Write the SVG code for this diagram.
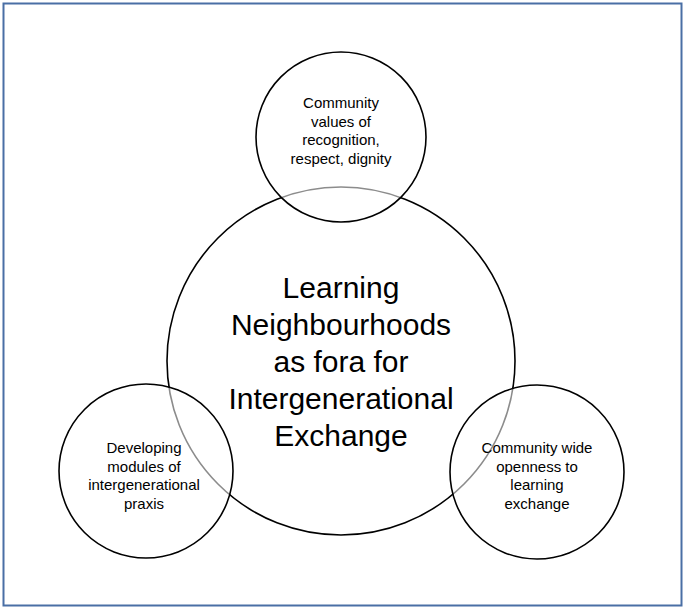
<svg xmlns="http://www.w3.org/2000/svg" width="685" height="609" viewBox="0 0 685 609">
<style>
.c{fill:none;stroke:#000;stroke-width:1.6}
.s{fill:#fff;fill-opacity:0.55;stroke:#000;stroke-width:1.6}
.t{font-family:"Liberation Sans",Arial,sans-serif;text-anchor:middle;fill:#000}
.big{font-size:30px}
.sm{font-size:15px}
</style>
<rect x="0" y="0" width="685" height="609" fill="#fff"/>
<rect x="3.5" y="3.5" width="678" height="602" fill="none" stroke="#4a6fa5" stroke-width="2"/>
<g id="connectors"></g>
<g id="center">
<circle class="c" cx="341" cy="361" r="174"/>
<text class="t big"><tspan x="341" y="298">Learning</tspan><tspan x="341" y="335">Neighbourhoods</tspan><tspan x="341" y="372">as fora for</tspan><tspan x="341" y="409">Intergenerational</tspan><tspan x="341" y="446">Exchange</tspan></text>
</g>
<g id="top">
<circle class="s" cx="341" cy="137" r="85"/>
<text class="t sm"><tspan x="341" y="108">Community</tspan><tspan x="341" y="127">values of</tspan><tspan x="341" y="145">recognition,</tspan><tspan x="341" y="164">respect, dignity</tspan></text>
</g>
<g id="left">
<circle class="s" cx="146" cy="471" r="87"/>
<text class="t sm"><tspan x="144" y="453">Developing</tspan><tspan x="144" y="472">modules of</tspan><tspan x="144" y="490">intergenerational</tspan><tspan x="144" y="509">praxis</tspan></text>
</g>
<g id="right">
<circle class="s" cx="537" cy="472" r="87"/>
<text class="t sm"><tspan x="537" y="453">Community wide</tspan><tspan x="537" y="472">openness to</tspan><tspan x="537" y="490">learning</tspan><tspan x="537" y="509">exchange</tspan></text>
</g>
</svg>
